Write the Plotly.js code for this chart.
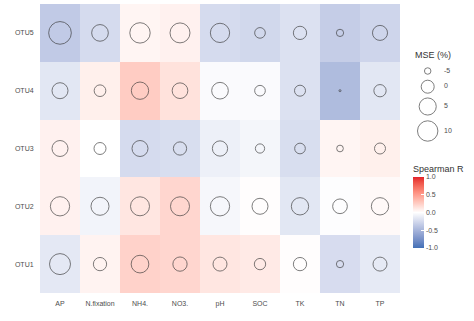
<!DOCTYPE html>
<html>
<head>
<meta charset="utf-8">
<script src="https://cdn.plot.ly/plotly-3.0.1.min.js"></script>
<style>html,body{margin:0;padding:0;background:#fff;}#chart{width:474px;height:321px;}</style>
</head>
<body>
<div id="chart"></div>
<script>
// ---- data ----
const xCats = ['AP', 'N.fixation', 'NH4.', 'NO3.', 'pH', 'SOC', 'TK', 'TN', 'TP'];
const yCats = ['OTU1', 'OTU2', 'OTU3', 'OTU4', 'OTU5'];
// Spearman R, rows in yCats order
const spearmanR = [
  [-0.15, 0.06, 0.23, 0.21, 0.13, 0.11, 0.01, -0.23, -0.14],
  [0.07, -0.07, 0.13, 0.21, -0.05, 0.01, -0.16, -0.01, 0.03],
  [0.07, 0.00, -0.24, -0.22, -0.10, -0.06, -0.22, 0.05, 0.08],
  [-0.16, 0.08, 0.26, 0.15, -0.03, -0.03, -0.20, -0.45, -0.16],
  [-0.35, -0.24, 0.05, 0.07, -0.24, -0.26, -0.20, -0.33, -0.28]
];
// MSE (%), rows in yCats order
const mse = [
  [11.0, 0.3, 5.8, 1.4, 1.1, -1.6, 0.3, -4.6, 1.1],
  [8.2, 6.3, 7.8, 7.8, 8.2, 3.5, 5.3, 1.9, 5.3],
  [3.5, -1.0, 3.5, 0.3, 2.6, -3.3, -2.2, -4.9, -1.9],
  [3.5, -1.3, 5.3, 3.1, 4.4, -2.2, -1.9, -6.4, -0.7],
  [14.0, 4.4, 10.0, 9.3, 8.2, -2.2, 0.3, -4.6, 2.3]
];
const mseLegendValues = [-5, 0, 5, 10];
const rTickVals = [-1, -0.5, 0, 0.5, 1];
const rTickText = ['-1.0', '-0.5', '0.0', '0.5', '1.0'];

// ---- style helpers ----
const W = 474, H = 321;
const FONT = 'Liberation Sans, Arial, sans-serif';
const TXT = '#4d4d4d';
function sizeOf(v) { return Math.max(1, 0.5 + 4.9 * Math.sqrt(Math.max(v + 6.5, 0))); }

function hex2rgb(h) { return [1, 3, 5].map(i => parseInt(h.substr(i, 2), 16) / 255); }
function lin(c) { return c <= 0.04045 ? c / 12.92 : Math.pow((c + 0.055) / 1.055, 2.4); }
function delin(c) { return c <= 0.0031308 ? 12.92 * c : 1.055 * Math.pow(c, 1 / 2.4) - 0.055; }
function toLab(h) {
  const [r, g, b] = hex2rgb(h).map(lin);
  let X = (0.4124 * r + 0.3576 * g + 0.1805 * b) / 0.95047;
  let Y = (0.2126 * r + 0.7152 * g + 0.0722 * b);
  let Z = (0.0193 * r + 0.1192 * g + 0.9505 * b) / 1.08883;
  const f = t => t > 0.008856 ? Math.cbrt(t) : 7.787 * t + 16 / 116;
  const fx = f(X), fy = f(Y), fz = f(Z);
  return [116 * fy - 16, 500 * (fx - fy), 200 * (fy - fz)];
}
function fromLab([L, a, b]) {
  const fy = (L + 16) / 116, fx = fy + a / 500, fz = fy - b / 200;
  const fi = t => t * t * t > 0.008856 ? t * t * t : (t - 16 / 116) / 7.787;
  const X = fi(fx) * 0.95047, Y = fi(fy), Z = fi(fz) * 1.08883;
  let r = 3.2406 * X - 1.5372 * Y - 0.4986 * Z;
  let g = -0.9689 * X + 1.8758 * Y + 0.0415 * Z;
  let bb = 0.0557 * X - 0.2040 * Y + 1.0570 * Z;
  const c = v => Math.round(Math.min(1, Math.max(0, delin(v))) * 255);
  return 'rgb(' + c(r) + ',' + c(g) + ',' + c(bb) + ')';
}
function labScale(low, mid, high, n) {
  const lo = toLab(low), mi = toLab(mid), hi = toLab(high);
  const out = [];
  for (let i = 0; i <= n; i++) {
    const s = i / n;
    let a, b, t;
    if (s <= 0.5) { a = lo; b = mi; t = s / 0.5; } else { a = mi; b = hi; t = (s - 0.5) / 0.5; }
    out.push([s, fromLab(a.map((v, k) => v + (b[k] - v) * t))]);
  }
  return out;
}
const colorscale = labScale('#4270B6', '#FFFFFF', '#E3202A', 40);

// ---- traces ----
const cx = [], cy = [], cs = [];
yCats.forEach((yc, i) => xCats.forEach((xc, j) => { cx.push(xc); cy.push(yc); cs.push(sizeOf(mse[i][j])); }));

const heat = {
  type: 'heatmap', x: xCats, y: yCats, z: spearmanR, zmin: -1, zmax: 1,
  colorscale: colorscale, hoverinfo: 'none', xgap: 0, ygap: 0,
  colorbar: {
    x: 413 / W, xanchor: 'left', y: 1 - 248 / H, yanchor: 'bottom',
    len: 86, lenmode: 'pixels', thickness: 11, thicknessmode: 'pixels',
    xpad: 0, ypad: 0, outlinewidth: 0,
    tickvals: rTickVals, ticktext: rTickText, ticks: 'inside', ticklen: 3, tickcolor: '#ffffff',
    tickfont: { family: FONT, size: 7, color: TXT },
    title: { text: 'Spearman R', side: 'top', font: { family: FONT, size: 9, color: '#333333' } }
  }
};
const circles = {
  type: 'scatter', mode: 'markers', x: cx, y: cy, hoverinfo: 'none', showlegend: false,
  marker: { size: cs, color: 'rgba(0,0,0,0)', line: { color: '#333333', width: 0.9 } }
};
// size legend (drawn in a pixel-coordinate overlay axis)
const legY = [71, 86.7, 106.5, 131];
const legCircles = {
  type: 'scatter', mode: 'markers', xaxis: 'x2', yaxis: 'y2', hoverinfo: 'none', showlegend: false,
  x: mseLegendValues.map(() => 427.7), y: legY, cliponaxis: false,
  marker: { size: mseLegendValues.map(sizeOf), color: 'rgba(0,0,0,0)', line: { color: '#333333', width: 0.9 } }
};
const legText = {
  type: 'scatter', mode: 'text', xaxis: 'x2', yaxis: 'y2', hoverinfo: 'none', showlegend: false,
  x: mseLegendValues.map(() => 444), y: legY, cliponaxis: false,
  text: mseLegendValues.map(String), textposition: 'middle right',
  textfont: { family: FONT, size: 7, color: TXT }
};

const layout = {
  width: W, height: H, margin: { l: 0, r: 0, t: 0, b: 0 },
  paper_bgcolor: '#ffffff', plot_bgcolor: 'rgba(0,0,0,0)', showlegend: false,
  xaxis: {
    domain: [40 / W, 400 / W], type: 'category', range: [-0.5, 8.5],
    showgrid: false, zeroline: false, showline: false,
    ticks: 'outside', ticklen: 4, tickcolor: 'rgba(0,0,0,0)',
    tickfont: { family: FONT, size: 7, color: TXT }, fixedrange: true
  },
  yaxis: {
    domain: [1 - 293 / H, 1 - 4 / H], type: 'category', range: [-0.5, 4.5],
    showgrid: false, zeroline: false, showline: false,
    ticks: 'outside', ticklen: 4, tickcolor: 'rgba(0,0,0,0)',
    tickfont: { family: FONT, size: 7, color: TXT }, fixedrange: true
  },
  xaxis2: { domain: [0, 1], range: [0, W], visible: false, anchor: 'y2', fixedrange: true },
  yaxis2: { domain: [0, 1], range: [H, 0], visible: false, anchor: 'x2', fixedrange: true },
  annotations: [{
    xref: 'x2', yref: 'y2', x: 413, y: 55, xanchor: 'left', yanchor: 'middle',
    text: 'MSE (%)', showarrow: false, font: { family: FONT, size: 9, color: '#333333' }
  }]
};

Plotly.newPlot('chart', [heat, circles, legCircles, legText], layout, { staticPlot: true, displayModeBar: false });
</script>
</body>
</html>
